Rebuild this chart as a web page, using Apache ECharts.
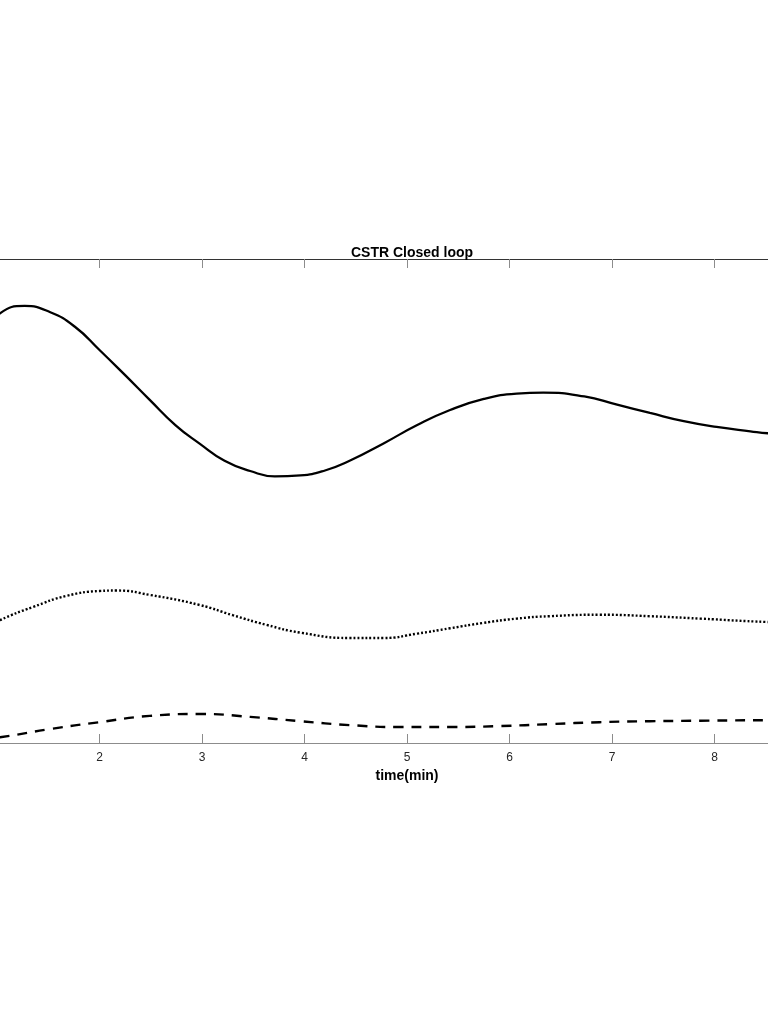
<!DOCTYPE html>
<html>
<head>
<meta charset="utf-8">
<script src="https://cdn.jsdelivr.net/npm/echarts@6/dist/echarts.min.js"></script>
<style>html,body{margin:0;padding:0;background:#fff;}#chart{width:768px;height:1024px;}</style>
</head>
<body>
<div id="chart"></div>
<script>
// time (min) and responses (arbitrary units; y-axis lies outside the visible area)
const solidT = [0.5, 0.75, 1.03, 1.27, 1.52, 1.76, 2.0, 2.25, 2.49, 2.74, 2.98, 3.22, 3.47, 3.71, 3.96, 4.2, 4.44, 4.78, 5.1, 5.42, 5.75, 6.07, 6.33, 6.73, 7.05, 7.37, 7.7, 8.02, 8.35, 8.52, 9.0, 10.0];
const solidY = [0.76, 0.83, 0.888, 0.903, 0.89, 0.86, 0.812, 0.76, 0.709, 0.657, 0.618, 0.583, 0.562, 0.551, 0.553, 0.563, 0.583, 0.62, 0.657, 0.688, 0.711, 0.722, 0.724, 0.716, 0.699, 0.682, 0.665, 0.653, 0.644, 0.64, 0.636, 0.634];

const dotT = [0.5, 1.03, 1.35, 1.68, 2.0, 2.17, 2.49, 2.98, 3.3, 3.63, 3.96, 4.44, 4.77, 5.1, 5.42, 5.74, 6.07, 6.39, 6.88, 7.37, 7.86, 8.52, 9.0, 10.0];
const dotY = [0.2, 0.254, 0.281, 0.304, 0.314, 0.315, 0.306, 0.285, 0.264, 0.244, 0.228, 0.217, 0.217, 0.226, 0.237, 0.248, 0.257, 0.262, 0.265, 0.262, 0.257, 0.25, 0.248, 0.247];

const dashT = [0.5, 1.03, 1.52, 2.0, 2.49, 2.98, 3.47, 3.96, 4.44, 4.93, 5.42, 5.91, 6.39, 6.88, 7.37, 7.86, 8.52, 9.0, 10.0];
const dashY = [0.0, 0.012, 0.029, 0.043, 0.056, 0.06, 0.054, 0.045, 0.037, 0.033, 0.033, 0.035, 0.039, 0.043, 0.045, 0.046, 0.047, 0.047, 0.047];

const xTicks = [0, 1, 2, 3, 4, 5, 6, 7, 8, 9, 10];

const zip = (a, b) => a.map((v, i) => [v, b[i]]);
const chart = echarts.init(document.getElementById('chart'), null, {renderer: 'canvas'});
const font = 'Arial, "Liberation Sans", Helvetica, sans-serif';
chart.setOption({
  animation: false,
  backgroundColor: '#ffffff',
  title: {
    text: 'CSTR Closed loop',
    left: 407, top: 241, textAlign: 'center',
    textStyle: {fontFamily: font, fontSize: 14, fontWeight: 'bold', color: '#000'}
  },
  grid: {left: -105.5, top: 259, width: 1025, height: 484, containLabel: false, outerBoundsMode: 'none'},
  xAxis: [{
    type: 'value', min: xTicks[0], max: xTicks[xTicks.length - 1], interval: 1,
    position: 'bottom',
    name: 'time(min)', nameLocation: 'middle', nameGap: 26,
    nameTextStyle: {fontFamily: font, fontSize: 14, fontWeight: 'bold', color: '#000'},
    axisLine: {lineStyle: {color: '#8c8c8c', width: 1.2}},
    axisTick: {inside: true, length: 9, lineStyle: {color: '#8c8c8c', width: 1}},
    axisLabel: {fontFamily: font, fontSize: 12, color: '#262626', margin: 9},
    splitLine: {show: false}
  }, {
    type: 'value', min: xTicks[0], max: xTicks[xTicks.length - 1], interval: 1,
    position: 'top',
    axisLine: {lineStyle: {color: '#333', width: 1.2}},
    axisTick: {inside: true, length: 9, lineStyle: {color: '#8c8c8c', width: 1}},
    axisLabel: {show: false},
    splitLine: {show: false}
  }],
  yAxis: {type: 'value', min: 0, max: 1, show: false},
  series: [
    {type: 'line', data: zip(solidT, solidY), smooth: 0.5, showSymbol: false,
     lineStyle: {color: '#000', width: 2.3, type: 'solid'}},
    {type: 'line', data: zip(dotT, dotY), smooth: 0.5, showSymbol: false,
     lineStyle: {color: '#000', width: 2.4, type: [2, 2]}},
    {type: 'line', data: zip(dashT, dashY), smooth: 0.5, showSymbol: false,
     lineStyle: {color: '#000', width: 2.4, type: [10, 8]}}
  ]
});
</script>
</body>
</html>
